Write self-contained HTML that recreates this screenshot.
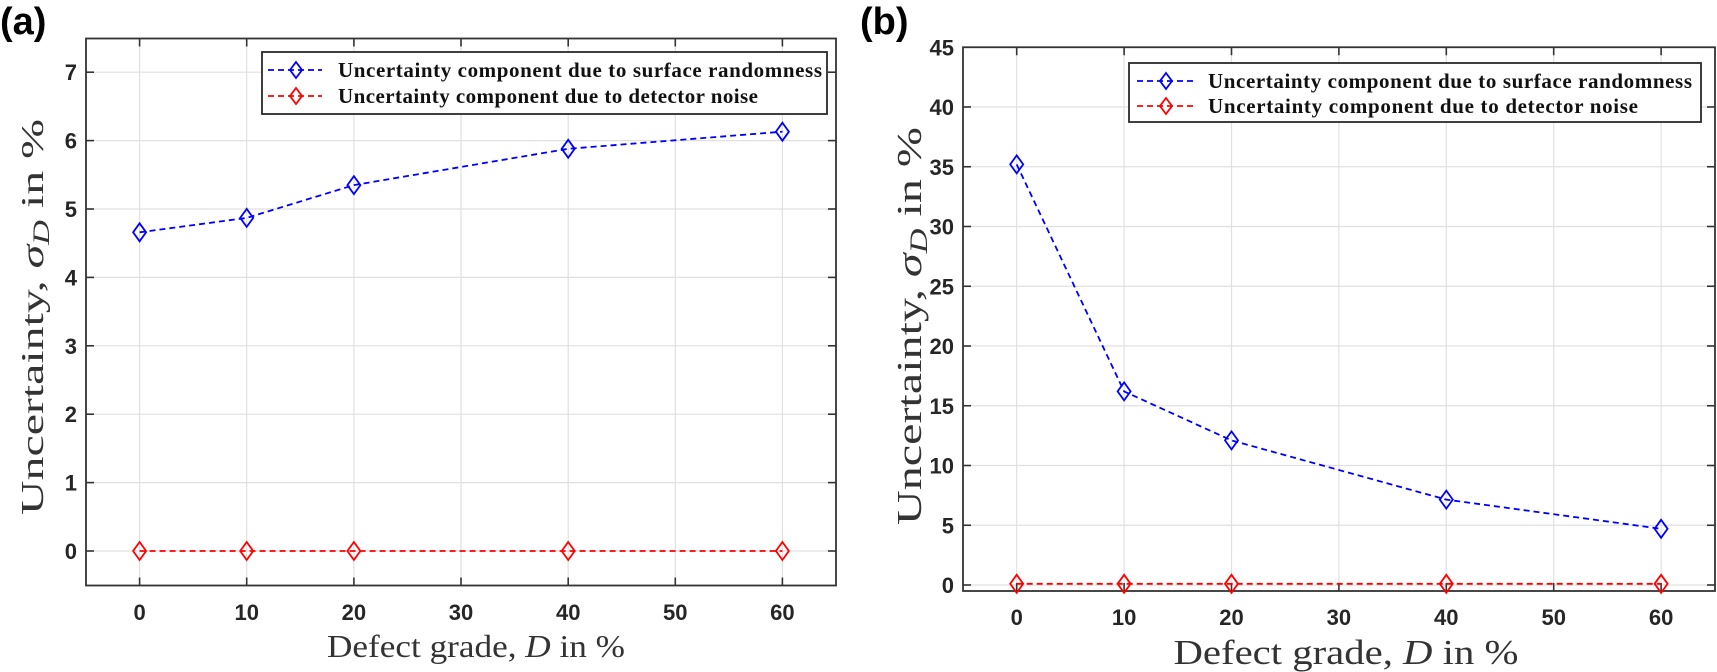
<!DOCTYPE html>
<html>
<head>
<meta charset="utf-8">
<style>
  html, body { margin: 0; padding: 0; background: #ffffff; }
  svg { display: block; }
  .tick { font-family: "Liberation Sans", Arial, sans-serif; font-weight: bold; font-size: 22px; fill: #262626; }
  .laba { font-family: "Liberation Serif", "DejaVu Serif", serif; font-size: 32px; fill: #333; }
  .labb { font-family: "Liberation Serif", "DejaVu Serif", serif; font-size: 35px; fill: #333; }
  .leg { font-family: "Liberation Serif", "DejaVu Serif", serif; font-weight: bold; font-size: 21px; fill: #111; }
  .pl { font-family: "Liberation Sans", Arial, sans-serif; font-weight: bold; font-size: 38px; fill: #000; }
  .grid line { stroke: #e0e0e0; stroke-width: 1.2; }
  .ax { stroke: #333; stroke-width: 1.8; fill: none; }
  .tk line { stroke: #333; stroke-width: 1.6; }
</style>
</head>
<body>
<svg width="1717" height="672" viewBox="0 0 1717 672" xmlns="http://www.w3.org/2000/svg">
  <rect x="0" y="0" width="1717" height="672" fill="#ffffff"/>

  <!-- ================= PANEL (a) ================= -->
  <text class="pl" x="0" y="34">(a)</text>

  <g class="grid">
    <line x1="139.6" y1="38.5" x2="139.6" y2="585.5"/>
    <line x1="246.7" y1="38.5" x2="246.7" y2="585.5"/>
    <line x1="353.9" y1="38.5" x2="353.9" y2="585.5"/>
    <line x1="461.0" y1="38.5" x2="461.0" y2="585.5"/>
    <line x1="568.2" y1="38.5" x2="568.2" y2="585.5"/>
    <line x1="675.3" y1="38.5" x2="675.3" y2="585.5"/>
    <line x1="782.4" y1="38.5" x2="782.4" y2="585.5"/>
    <line x1="86" y1="551" x2="836" y2="551"/>
    <line x1="86" y1="482.6" x2="836" y2="482.6"/>
    <line x1="86" y1="414.2" x2="836" y2="414.2"/>
    <line x1="86" y1="345.8" x2="836" y2="345.8"/>
    <line x1="86" y1="277.4" x2="836" y2="277.4"/>
    <line x1="86" y1="209.0" x2="836" y2="209.0"/>
    <line x1="86" y1="140.6" x2="836" y2="140.6"/>
    <line x1="86" y1="72.2" x2="836" y2="72.2"/>
  </g>

  <rect class="ax" x="86" y="38.5" width="750" height="547"/>

  <g class="tk">
    <line x1="139.6" y1="585.5" x2="139.6" y2="577.5"/><line x1="139.6" y1="38.5" x2="139.6" y2="46.5"/>
    <line x1="246.7" y1="585.5" x2="246.7" y2="577.5"/><line x1="246.7" y1="38.5" x2="246.7" y2="46.5"/>
    <line x1="353.9" y1="585.5" x2="353.9" y2="577.5"/><line x1="353.9" y1="38.5" x2="353.9" y2="46.5"/>
    <line x1="461.0" y1="585.5" x2="461.0" y2="577.5"/><line x1="461.0" y1="38.5" x2="461.0" y2="46.5"/>
    <line x1="568.2" y1="585.5" x2="568.2" y2="577.5"/><line x1="568.2" y1="38.5" x2="568.2" y2="46.5"/>
    <line x1="675.3" y1="585.5" x2="675.3" y2="577.5"/><line x1="675.3" y1="38.5" x2="675.3" y2="46.5"/>
    <line x1="782.4" y1="585.5" x2="782.4" y2="577.5"/><line x1="782.4" y1="38.5" x2="782.4" y2="46.5"/>
    <line x1="86" y1="551" x2="94" y2="551"/><line x1="836" y1="551" x2="828" y2="551"/>
    <line x1="86" y1="482.6" x2="94" y2="482.6"/><line x1="836" y1="482.6" x2="828" y2="482.6"/>
    <line x1="86" y1="414.2" x2="94" y2="414.2"/><line x1="836" y1="414.2" x2="828" y2="414.2"/>
    <line x1="86" y1="345.8" x2="94" y2="345.8"/><line x1="836" y1="345.8" x2="828" y2="345.8"/>
    <line x1="86" y1="277.4" x2="94" y2="277.4"/><line x1="836" y1="277.4" x2="828" y2="277.4"/>
    <line x1="86" y1="209.0" x2="94" y2="209.0"/><line x1="836" y1="209.0" x2="828" y2="209.0"/>
    <line x1="86" y1="140.6" x2="94" y2="140.6"/><line x1="836" y1="140.6" x2="828" y2="140.6"/>
    <line x1="86" y1="72.2" x2="94" y2="72.2"/><line x1="836" y1="72.2" x2="828" y2="72.2"/>
  </g>

  <g class="tick" text-anchor="end">
    <text x="77" y="559">0</text>
    <text x="77" y="490.6">1</text>
    <text x="77" y="422.2">2</text>
    <text x="77" y="353.8">3</text>
    <text x="77" y="285.4">4</text>
    <text x="77" y="217">5</text>
    <text x="77" y="148.6">6</text>
    <text x="77" y="80.2">7</text>
  </g>
  <g class="tick" text-anchor="middle">
    <text x="139.6" y="620">0</text>
    <text x="246.7" y="620">10</text>
    <text x="353.9" y="620">20</text>
    <text x="461.0" y="620">30</text>
    <text x="568.2" y="620">40</text>
    <text x="675.3" y="620">50</text>
    <text x="782.4" y="620">60</text>
  </g>

  <text class="laba" x="476" y="657" text-anchor="middle" textLength="298" lengthAdjust="spacingAndGlyphs">Defect grade, <tspan font-style="italic">D</tspan> in %</text>
  <text class="laba" transform="translate(43,317) rotate(-90)" text-anchor="middle" textLength="396" lengthAdjust="spacingAndGlyphs">Uncertainty, <tspan font-style="italic">σ</tspan><tspan font-style="italic" font-size="23" dy="6">D</tspan><tspan dy="-6"> in %</tspan></text>

  <polyline points="139.6,551 246.7,551 353.9,551 568.2,551 782.4,551" fill="none" stroke="#ff0000" stroke-width="1.8" stroke-dasharray="6 4"/>
  <polyline points="139.6,232.3 246.7,217.9 353.9,185.1 568.2,148.8 782.4,131.7" fill="none" stroke="#0000ff" stroke-width="1.8" stroke-dasharray="6 4"/>
  <g fill="none" stroke="#ff0000" stroke-width="1.8">
    <path d="M139.6,542 L146.1,551 L139.6,560 L133.1,551 Z"/>
    <path d="M246.7,542 L253.2,551 L246.7,560 L240.2,551 Z"/>
    <path d="M353.9,542 L360.4,551 L353.9,560 L347.4,551 Z"/>
    <path d="M568.2,542 L574.7,551 L568.2,560 L561.7,551 Z"/>
    <path d="M782.4,542 L788.9,551 L782.4,560 L775.9,551 Z"/>
  </g>
  <g fill="none" stroke="#0000ff" stroke-width="1.8">
    <path d="M139.6,223.3 L146.1,232.3 L139.6,241.3 L133.1,232.3 Z"/>
    <path d="M246.7,208.9 L253.2,217.9 L246.7,226.9 L240.2,217.9 Z"/>
    <path d="M353.9,176.1 L360.4,185.1 L353.9,194.1 L347.4,185.1 Z"/>
    <path d="M568.2,139.8 L574.7,148.8 L568.2,157.8 L561.7,148.8 Z"/>
    <path d="M782.4,122.7 L788.9,131.7 L782.4,140.7 L775.9,131.7 Z"/>
  </g>

  <!-- legend (a) -->
  <rect x="262" y="52" width="565" height="62" fill="#ffffff" stroke="#2a2a2a" stroke-width="1.8"/>
  <line x1="268" y1="70" x2="322" y2="70" stroke="#0000ff" stroke-width="1.8" stroke-dasharray="6 4"/>
  <path d="M296,62 L302,70 L296,78 L290,70 Z" fill="none" stroke="#0000ff" stroke-width="1.8"/>
  <text class="leg" x="338" y="77" textLength="484" lengthAdjust="spacing">Uncertainty component due to surface randomness</text>
  <line x1="268" y1="96" x2="322" y2="96" stroke="#ff0000" stroke-width="1.8" stroke-dasharray="6 4"/>
  <path d="M296,88 L302,96 L296,104 L290,96 Z" fill="none" stroke="#ff0000" stroke-width="1.8"/>
  <text class="leg" x="338" y="103" textLength="420" lengthAdjust="spacing">Uncertainty component due to detector noise</text>

  <!-- ================= PANEL (b) ================= -->
  <text class="pl" x="860" y="34">(b)</text>

  <g class="grid">
    <line x1="1016.7" y1="47.25" x2="1016.7" y2="591"/>
    <line x1="1124.1" y1="47.25" x2="1124.1" y2="591"/>
    <line x1="1231.5" y1="47.25" x2="1231.5" y2="591"/>
    <line x1="1338.9" y1="47.25" x2="1338.9" y2="591"/>
    <line x1="1446.3" y1="47.25" x2="1446.3" y2="591"/>
    <line x1="1553.7" y1="47.25" x2="1553.7" y2="591"/>
    <line x1="1661.1" y1="47.25" x2="1661.1" y2="591"/>
    <line x1="963" y1="585" x2="1715" y2="585"/>
    <line x1="963" y1="525.25" x2="1715" y2="525.25"/>
    <line x1="963" y1="465.5" x2="1715" y2="465.5"/>
    <line x1="963" y1="405.75" x2="1715" y2="405.75"/>
    <line x1="963" y1="346" x2="1715" y2="346"/>
    <line x1="963" y1="286.25" x2="1715" y2="286.25"/>
    <line x1="963" y1="226.5" x2="1715" y2="226.5"/>
    <line x1="963" y1="166.75" x2="1715" y2="166.75"/>
    <line x1="963" y1="107" x2="1715" y2="107"/>
  </g>

  <rect class="ax" x="963" y="47.25" width="752" height="543.75"/>

  <g class="tk">
    <line x1="1016.7" y1="591" x2="1016.7" y2="583"/><line x1="1016.7" y1="47.25" x2="1016.7" y2="55.25"/>
    <line x1="1124.1" y1="591" x2="1124.1" y2="583"/><line x1="1124.1" y1="47.25" x2="1124.1" y2="55.25"/>
    <line x1="1231.5" y1="591" x2="1231.5" y2="583"/><line x1="1231.5" y1="47.25" x2="1231.5" y2="55.25"/>
    <line x1="1338.9" y1="591" x2="1338.9" y2="583"/><line x1="1338.9" y1="47.25" x2="1338.9" y2="55.25"/>
    <line x1="1446.3" y1="591" x2="1446.3" y2="583"/><line x1="1446.3" y1="47.25" x2="1446.3" y2="55.25"/>
    <line x1="1553.7" y1="591" x2="1553.7" y2="583"/><line x1="1553.7" y1="47.25" x2="1553.7" y2="55.25"/>
    <line x1="1661.1" y1="591" x2="1661.1" y2="583"/><line x1="1661.1" y1="47.25" x2="1661.1" y2="55.25"/>
    <line x1="963" y1="585" x2="971" y2="585"/><line x1="1715" y1="585" x2="1707" y2="585"/>
    <line x1="963" y1="525.25" x2="971" y2="525.25"/><line x1="1715" y1="525.25" x2="1707" y2="525.25"/>
    <line x1="963" y1="465.5" x2="971" y2="465.5"/><line x1="1715" y1="465.5" x2="1707" y2="465.5"/>
    <line x1="963" y1="405.75" x2="971" y2="405.75"/><line x1="1715" y1="405.75" x2="1707" y2="405.75"/>
    <line x1="963" y1="346" x2="971" y2="346"/><line x1="1715" y1="346" x2="1707" y2="346"/>
    <line x1="963" y1="286.25" x2="971" y2="286.25"/><line x1="1715" y1="286.25" x2="1707" y2="286.25"/>
    <line x1="963" y1="226.5" x2="971" y2="226.5"/><line x1="1715" y1="226.5" x2="1707" y2="226.5"/>
    <line x1="963" y1="166.75" x2="971" y2="166.75"/><line x1="1715" y1="166.75" x2="1707" y2="166.75"/>
    <line x1="963" y1="107" x2="971" y2="107"/><line x1="1715" y1="107" x2="1707" y2="107"/>
  </g>

  <g class="tick" text-anchor="end">
    <text x="954" y="593">0</text>
    <text x="954" y="533.25">5</text>
    <text x="954" y="473.5">10</text>
    <text x="954" y="413.75">15</text>
    <text x="954" y="354">20</text>
    <text x="954" y="294.25">25</text>
    <text x="954" y="234.5">30</text>
    <text x="954" y="174.75">35</text>
    <text x="954" y="115">40</text>
    <text x="954" y="55.25">45</text>
  </g>
  <g class="tick" text-anchor="middle">
    <text x="1016.7" y="625">0</text>
    <text x="1124.1" y="625">10</text>
    <text x="1231.5" y="625">20</text>
    <text x="1338.9" y="625">30</text>
    <text x="1446.3" y="625">40</text>
    <text x="1553.7" y="625">50</text>
    <text x="1661.1" y="625">60</text>
  </g>

  <text class="labb" x="1346" y="664" text-anchor="middle" textLength="345" lengthAdjust="spacingAndGlyphs">Defect grade, <tspan font-style="italic">D</tspan> in %</text>
  <text class="labb" transform="translate(921,326) rotate(-90)" text-anchor="middle" textLength="398" lengthAdjust="spacingAndGlyphs">Uncertainty, <tspan font-style="italic">σ</tspan><tspan font-style="italic" font-size="25" dy="6">D</tspan><tspan dy="-6"> in %</tspan></text>

  <polyline points="1016.7,583.8 1124.1,583.8 1231.5,583.8 1446.3,583.8 1661.1,583.8" fill="none" stroke="#ff0000" stroke-width="1.8" stroke-dasharray="6 4"/>
  <polyline points="1016.7,164.4 1124.1,391.4 1231.5,440.4 1446.3,499.6 1661.1,528.8" fill="none" stroke="#0000ff" stroke-width="1.8" stroke-dasharray="6 4"/>
  <g fill="none" stroke="#ff0000" stroke-width="1.8">
    <path d="M1016.7,574.8 L1023.2,583.8 L1016.7,592.8 L1010.2,583.8 Z"/>
    <path d="M1124.1,574.8 L1130.6,583.8 L1124.1,592.8 L1117.6,583.8 Z"/>
    <path d="M1231.5,574.8 L1238.0,583.8 L1231.5,592.8 L1225.0,583.8 Z"/>
    <path d="M1446.3,574.8 L1452.8,583.8 L1446.3,592.8 L1439.8,583.8 Z"/>
    <path d="M1661.1,574.8 L1667.6,583.8 L1661.1,592.8 L1654.6,583.8 Z"/>
  </g>
  <g fill="none" stroke="#0000ff" stroke-width="1.8">
    <path d="M1016.7,155.4 L1023.2,164.4 L1016.7,173.4 L1010.2,164.4 Z"/>
    <path d="M1124.1,382.4 L1130.6,391.4 L1124.1,400.4 L1117.6,391.4 Z"/>
    <path d="M1231.5,431.4 L1238.0,440.4 L1231.5,449.4 L1225.0,440.4 Z"/>
    <path d="M1446.3,490.6 L1452.8,499.6 L1446.3,508.6 L1439.8,499.6 Z"/>
    <path d="M1661.1,519.8 L1667.6,528.8 L1661.1,537.8 L1654.6,528.8 Z"/>
  </g>

  <!-- legend (b) -->
  <rect x="1129" y="63" width="572" height="59" fill="#ffffff" stroke="#2a2a2a" stroke-width="1.8"/>
  <line x1="1137" y1="81" x2="1195" y2="81" stroke="#0000ff" stroke-width="1.8" stroke-dasharray="6 4"/>
  <path d="M1166,73 L1172,81 L1166,89 L1160,81 Z" fill="none" stroke="#0000ff" stroke-width="1.8"/>
  <text class="leg" x="1208" y="88" textLength="484" lengthAdjust="spacing">Uncertainty component due to surface randomness</text>
  <line x1="1137" y1="106" x2="1195" y2="106" stroke="#ff0000" stroke-width="1.8" stroke-dasharray="6 4"/>
  <path d="M1166,98 L1172,106 L1166,114 L1160,106 Z" fill="none" stroke="#ff0000" stroke-width="1.8"/>
  <text class="leg" x="1208" y="113" textLength="430" lengthAdjust="spacing">Uncertainty component due to detector noise</text>
</svg>
</body>
</html>
